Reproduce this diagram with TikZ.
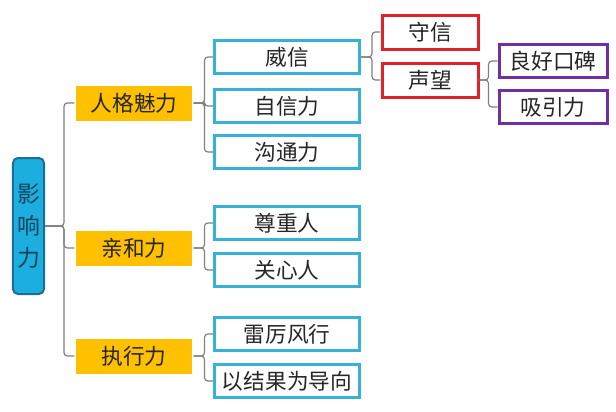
\documentclass[tikz,border=0pt]{standalone}
\usepackage{fontspec}
\usepackage{xcolor}
\usepackage{tikz}
\newfontfamily\cjk{Noto Sans CJK SC}
\definecolor{RootFill}{HTML}{1DAEE0}
\definecolor{RootLine}{HTML}{1A6F95}
\definecolor{Gold}{HTML}{FFC000}
\definecolor{Aqua}{HTML}{35B1DA}
\definecolor{Crimson}{HTML}{E0202A}
\definecolor{Violet}{HTML}{7030A0}
\tikzset{%Global config
	>=latex,
	color = black ,
	%Styles
	Box/.style={
		font=\cjk\fontsize{18.5}{21}\selectfont,
		text=black!85,
		inner sep=0pt,
		line width=0.09cm,
		align=center,
	},
	Root/.style={
		Box,
		fill=RootFill,
		draw=RootLine,
		line width=0.06cm,
		rounded corners=0.15cm,
		minimum width=0.93cm,
		minimum height=4.08cm,
		font=\cjk\fontsize{19.5}{27}\selectfont,
		text=RootLine!60!black,
	},
	Lvl/.style={Box, fill=Gold, minimum width=3.48cm, minimum height=1.05cm},
	Aq/.style={Box, draw=Aqua, fill=white, minimum width=4.35cm, minimum height=0.99cm},
	Rd/.style={Box, draw=Crimson, fill=white, minimum width=2.88cm, minimum height=1.02cm},
	Vt/.style={Box, draw=Violet, fill=white, minimum width=3.24cm, minimum height=0.99cm},
	Link/.style={
		draw=black!50,
		line width=1pt,
		rounded corners=0.1cm,
	}
}
\begin{document}
\begin{tikzpicture}[x=0.03cm,y=-0.03cm]
		\useasboundingbox (0,0) rectangle (616,411);
		% root
		\node[Root] (R) at (28.5,226) {影\\响\\力};
		% first level
		\node[Lvl] (P1) at (134,103) {人格魅力};
		\node[Lvl] (P2) at (134,248) {亲和力};
		\node[Lvl] (P3) at (134,356) {执行力};
		% second level
		\node[Aq] (A1) at (287,57) {威信};
		\node[Aq] (A2) at (287,106) {自信力};
		\node[Aq] (A3) at (287,152) {沟通力};
		\node[Aq] (B1) at (287,223) {尊重人};
		\node[Aq] (B2) at (287,270) {关心人};
		\node[Aq] (C1) at (287,334) {雷厉风行};
		\node[Aq] (C2) at (287,381) {以结果为导向};
		% third and fourth level
		\node[Rd] (W1) at (430,32) {守信};
		\node[Rd] (W2) at (430,80) {声望};
		\node[Vt] (S1) at (553,61) {良好口碑};
		\node[Vt] (S2) at (553,107) {吸引力};
		
		% brackets
		\foreach \c in {P1,P2,P3}
			\draw[Link] (R.east) -- ++(19,0) |- (\c.west);
		\foreach \c in {A1,A2,A3}
			\draw[Link] (P1.east) -- ++(11,0) |- (\c.west);
		\foreach \c in {B1,B2}
			\draw[Link] (P2.east) -- ++(11,0) |- (\c.west);
		\foreach \c in {C1,C2}
			\draw[Link] (P3.east) -- ++(11,0) |- (\c.west);
		\foreach \c in {W1,W2}
			\draw[Link] (A1.east) -- ++(11,0) |- (\c.west);
		\foreach \c in {S1,S2}
			\draw[Link] (W2.east) -- ++(9,0) |- (\c.west);
	\end{tikzpicture}
\end{document}
